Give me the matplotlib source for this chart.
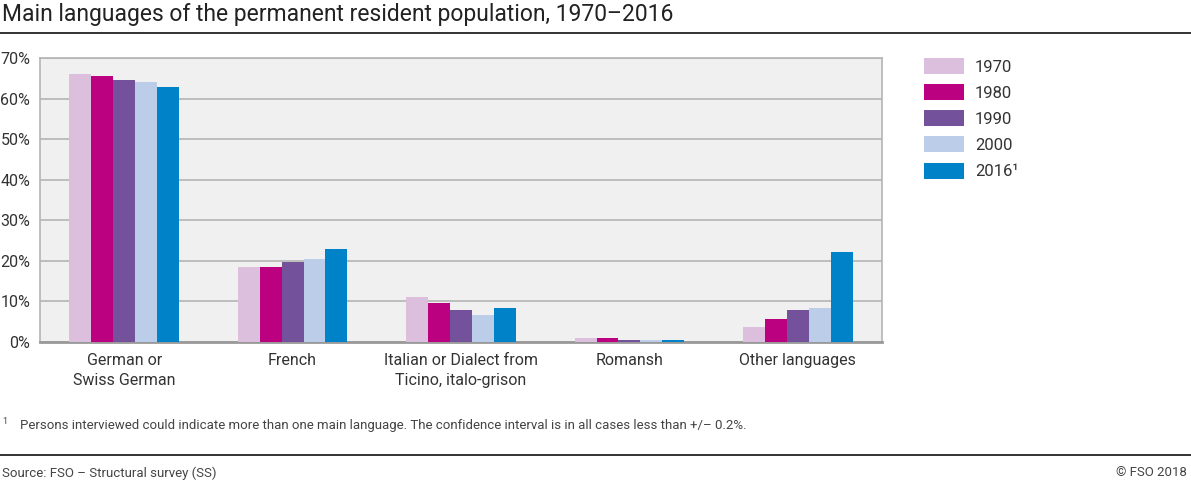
import matplotlib.pyplot as plt
import numpy as np

plt.rcParams['font.family'] = ['Roboto', 'DejaVu Sans']

categories = ['German or\nSwiss German', 'French', 'Italian or Dialect from\nTicino, italo-grison',
              'Romansh', 'Other languages']
years = ['1970', '1980', '1990', '2000', '2016\u00b9']
values = {
    '1970': [66.1, 18.5, 11.1, 1.0, 3.8],
    '1980': [65.6, 18.6, 9.6, 0.9, 5.7],
    '1990': [64.7, 19.6, 7.8, 0.6, 7.8],
    '2000': [64.2, 20.4, 6.6, 0.5, 8.5],
    '2016': [62.8, 22.9, 8.3, 0.5, 22.2],
}
colors = ['#dcbfdc', '#bb0080', '#73529b', '#bccde9', '#0082c9']

W, H = 1191, 482
fig = plt.figure(figsize=(W / 100, H / 100), dpi=100)
ax = fig.add_axes([40 / W, 1 - 342 / H, (882 - 40) / W, (342 - 58) / H])

x = np.arange(len(categories))
bw = 0.13
for i, (key, c) in enumerate(zip(values, colors)):
    ax.bar(x + (i - 2) * bw, values[key], bw, color=c, label=years[i], zorder=3)

ax.set_xlim(-0.5, 4.5)
ax.set_ylim(0, 70)
ax.set_yticks(range(0, 71, 10))
ax.set_yticklabels([f'{v}%' for v in range(0, 71, 10)])
ax.set_xticks(x)
ax.set_xticklabels(categories, fontsize=11.5, color='#333333', linespacing=1.4)
ax.tick_params(axis='y', length=0, pad=7, labelsize=11.5, labelcolor='#333333')
ax.tick_params(axis='x', length=0, pad=8)
ax.set_facecolor('#f0f0f0')
ax.grid(axis='y', color='#b4b4b4', linewidth=1.2, zorder=0)
for s in ax.spines.values():
    s.set_color('#b4b4b4')
    s.set_linewidth(1.2)
ax.spines['bottom'].set_color('#999999')
ax.spines['bottom'].set_linewidth(2)

leg = fig.legend(loc='upper left', bbox_to_anchor=(924 / W, 1 - 58 / H), frameon=False,
                 fontsize=12, handlelength=2.4, handleheight=1.1, labelspacing=0.57,
                 handletextpad=0.65, borderpad=0, borderaxespad=0)
for t in leg.get_texts():
    t.set_color('#333333')

fig.text(2 / W, 1 - 14 / H, 'Main languages of the permanent resident population, 1970\u20132016',
         fontsize=16.5, va='center', ha='left', color='#222222')
fig.add_artist(plt.Line2D([0, 1], [1 - 33 / H, 1 - 33 / H], color='#333333', linewidth=1.4))
fig.text(2 / W, 1 - 422 / H, '1', fontsize=6.5, va='center', color='#444444')
fig.text(20 / W, 1 - 425 / H,
         'Persons interviewed could indicate more than one main language. '
         'The confidence interval is in all cases less than +/\u2013 0.2%.',
         fontsize=9.5, va='center', color='#444444')
fig.add_artist(plt.Line2D([0, 1], [1 - 455 / H, 1 - 455 / H], color='#333333', linewidth=1.4))
fig.text(2 / W, 1 - 473 / H, 'Source: FSO \u2013 Structural survey (SS)', fontsize=9.5,
         va='center', color='#444444')
fig.text(1 - 4 / W, 1 - 473 / H, '\u00a9 FSO 2018', fontsize=9.5, va='center', ha='right',
         color='#444444')

fig.savefig('out.png', dpi=100)
